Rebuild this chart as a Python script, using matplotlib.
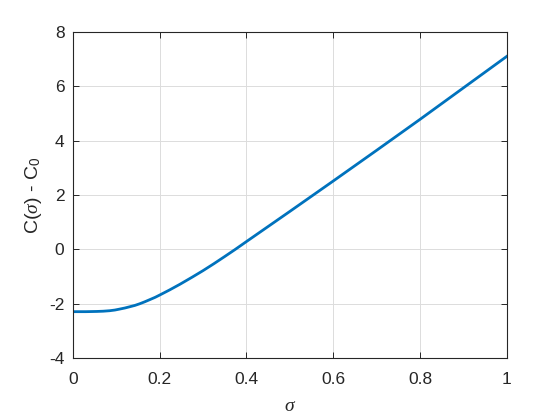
import matplotlib
matplotlib.use("Agg")
import matplotlib.pyplot as plt

# values
sigma = [0, 0.03, 0.055, 0.07, 0.085, 0.097, 0.108, 0.12, 0.131, 0.143, 0.154,
         0.166, 0.177, 0.19, 0.2, 0.223, 0.247, 0.275, 0.3, 0.325, 0.35, 0.375,
         0.4, 0.5, 0.6, 0.7, 0.8, 0.9, 1.0]
c_diff = [-2.30, -2.30, -2.292, -2.283, -2.265, -2.24, -2.205, -2.165, -2.12, -2.07,
          -2.01, -1.935, -1.86, -1.77, -1.69, -1.50, -1.29, -1.03, -0.79, -0.535,
          -0.27, 0.0, 0.28, 1.39, 2.51, 3.64, 4.78, 5.94, 7.10]

xticks = [0, 0.2, 0.4, 0.6, 0.8, 1]
xticklabels = ["0", "0.2", "0.4", "0.6", "0.8", "1"]
yticks = [-4, -2, 0, 2, 4, 6, 8]

plt.rcParams['font.family'] = ['Liberation Sans', 'DejaVu Sans']
plt.rcParams['axes.unicode_minus'] = False
plt.rcParams['mathtext.fontset'] = 'custom'
plt.rcParams['mathtext.rm'] = 'Liberation Sans'
plt.rcParams['mathtext.it'] = 'Liberation Serif:italic'

fig = plt.figure(figsize=(5.6, 4.2), dpi=100)
ax = fig.add_axes([0.13, 0.148, 0.775, 0.776])

ax.plot(sigma, c_diff, color='#0072BD', linewidth=2)

ax.set_xlim(0, 1)
ax.set_ylim(-4, 8)
ax.set_xticks(xticks)
ax.set_xticklabels(xticklabels)
ax.set_yticks(yticks)
ax.grid(True, color='#dcdcdc', linewidth=0.7)
ax.tick_params(direction='in', top=True, right=True, length=4, width=0.7,
               colors='#262626', labelsize=12.5)
ax.tick_params(axis='x', pad=10)
ax.tick_params(axis='y', pad=6)
for s in ax.spines.values():
    s.set_color('#262626')
    s.set_linewidth(0.8)

ax.set_xlabel(r'$\sigma$', fontsize=14, color='#262626', labelpad=8)
ax.set_ylabel(r'C($\sigma$) - C$_\mathrm{0}$', fontsize=14, color='#262626')

fig.savefig('out.png', dpi=100)
